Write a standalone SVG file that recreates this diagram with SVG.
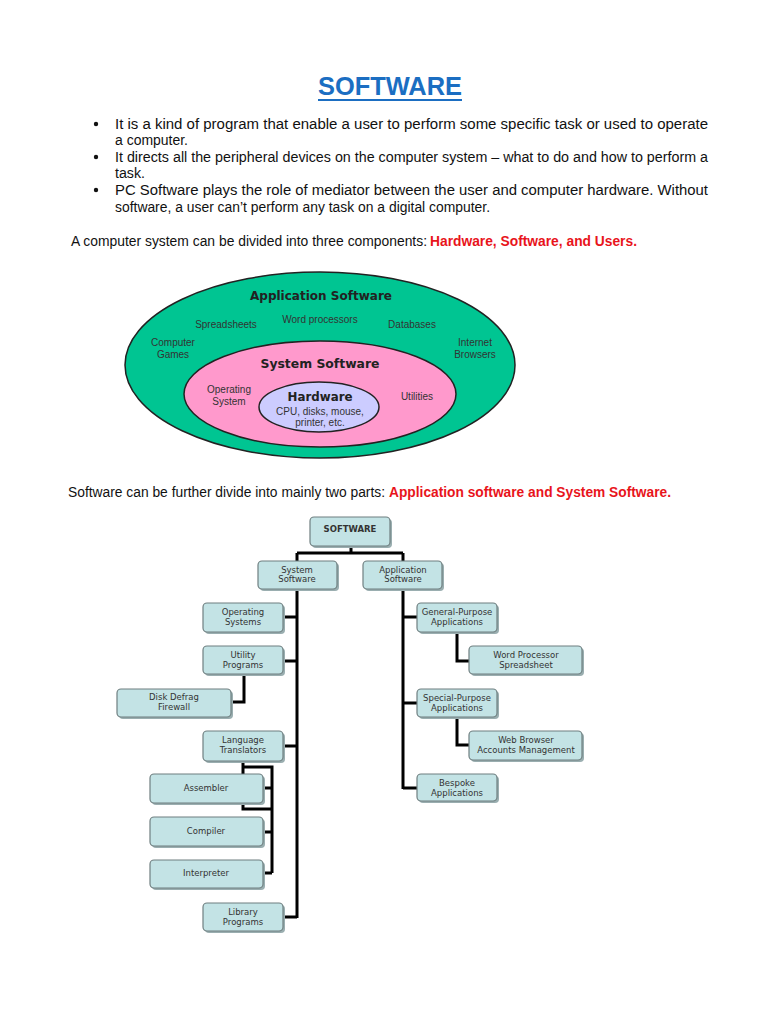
<svg xmlns="http://www.w3.org/2000/svg" width="768" height="1024" viewBox="0 0 768 1024">
<style>
.body{font-family:"Liberation Sans",Arial,sans-serif;font-size:14px;fill:#111}
.red{font-family:"Liberation Sans",Arial,sans-serif;font-size:14px;font-weight:bold;fill:#e8141b}
.eh{font-family:"DejaVu Sans","Liberation Sans",sans-serif;font-size:12.5px;font-weight:bold;fill:#222;text-anchor:middle}
.es{font-family:"Liberation Sans",Arial,sans-serif;font-size:10px;fill:#333;text-anchor:middle}
.box{fill:#c3e3e5;stroke:#6f7f80;stroke-width:1.2}
.shadow{fill:#9aaeb0}
.bt{font-family:"DejaVu Sans","Liberation Sans",sans-serif;font-size:8.5px;fill:#333;text-anchor:middle}
.conn{fill:none;stroke:#000;stroke-width:3}
</style>
<rect width="768" height="1024" fill="#fff"/>
<g id="title">
<text x="390" y="95" text-anchor="middle" font-family="Liberation Sans,Arial,sans-serif" font-size="26" font-weight="bold" fill="#1b6ec2" textLength="144" lengthAdjust="spacingAndGlyphs">SOFTWARE</text>
<rect x="318" y="99" width="144" height="2" fill="#1b6ec2"/>
</g>
<g id="bullets">
<circle cx="96" cy="124" r="2.2" fill="#111"/>
<circle cx="96" cy="157" r="2.2" fill="#111"/>
<circle cx="96" cy="190" r="2.2" fill="#111"/>
<text class="body" x="115" y="129" textLength="593" lengthAdjust="spacingAndGlyphs">It is a kind of program that enable a user to perform some specific task or used to operate</text>
<text class="body" x="115" y="145" textLength="73" lengthAdjust="spacingAndGlyphs">a computer.</text>
<text class="body" x="115" y="162" textLength="593" lengthAdjust="spacingAndGlyphs">It directs all the peripheral devices on the computer system – what to do and how to perform a</text>
<text class="body" x="115" y="178" textLength="30" lengthAdjust="spacingAndGlyphs">task.</text>
<text class="body" x="115" y="195" textLength="593" lengthAdjust="spacingAndGlyphs">PC Software plays the role of mediator between the user and computer hardware. Without</text>
<text class="body" x="115" y="212" textLength="375" lengthAdjust="spacingAndGlyphs">software, a user can’t perform any task on a digital computer.</text>
</g>
<g id="intro1">
<text class="body" x="71" y="246" textLength="356" lengthAdjust="spacingAndGlyphs">A computer system can be divided into three components:</text>
<text class="red" x="430" y="246" textLength="207" lengthAdjust="spacingAndGlyphs">Hardware, Software, and Users.</text>
</g>
<g id="app-ellipse">
<ellipse cx="320" cy="365" rx="195" ry="93" fill="#00c592" stroke="#222" stroke-width="1.5"/>
<text class="eh" x="321" y="300" textLength="142" lengthAdjust="spacingAndGlyphs">Application Software</text>
<text class="es" x="320" y="323">Word processors</text>
<text class="es" x="226" y="328">Spreadsheets</text>
<text class="es" x="412" y="328">Databases</text>
<text class="es" x="173" y="346">Computer</text>
<text class="es" x="173" y="358">Games</text>
<text class="es" x="475" y="346">Internet</text>
<text class="es" x="475" y="358">Browsers</text>
</g>
<g id="sys-ellipse">
<ellipse cx="320" cy="394" rx="136" ry="53" fill="#ff99cc" stroke="#222" stroke-width="1.5"/>
<text class="eh" x="320" y="368" textLength="119" lengthAdjust="spacingAndGlyphs">System Software</text>
<text class="es" x="229" y="393">Operating</text>
<text class="es" x="229" y="405">System</text>
<text class="es" x="417" y="400">Utilities</text>
</g>
<g id="hw-ellipse">
<ellipse cx="319" cy="407" rx="60" ry="25" fill="#ccccff" stroke="#222" stroke-width="1.5"/>
<text class="eh" x="320" y="401" textLength="65" lengthAdjust="spacingAndGlyphs">Hardware</text>
<text class="es" x="320" y="415">CPU, disks, mouse,</text>
<text class="es" x="320" y="426">printer, etc.</text>
</g>
<g id="intro2">
<text class="body" x="68" y="497" textLength="317" lengthAdjust="spacingAndGlyphs">Software can be further divide into mainly two parts:</text>
<text class="red" x="389" y="497" textLength="282" lengthAdjust="spacingAndGlyphs">Application software and System Software.</text>
</g>
<g id="connectors">
<path class="conn" d="M351 546 V553 M297 553 H403 M297 553 V561 M403 553 V561"/>
<path class="conn" d="M297 589 V918"/>
<path class="conn" d="M283 617 H297 M283 661 H297 M283 746 H297 M283 917 H297"/>
<path class="conn" d="M244 674 V702 H231"/>
<path class="conn" d="M243 761 V809 H272 M243 767 H272 V873 M263 788 H272 M263 832 H272 M263 873 H272"/>
<path class="conn" d="M403 589 V789 M403 617 H417 M403 703 H417 M403 788 H417"/>
<path class="conn" d="M457 632 V661 H469 M457 717 V745 H469"/>
</g>
<g id="n-software"><rect class="shadow" x="312" y="519" width="80" height="29" rx="4"/><rect class="box" x="310" y="517" width="80" height="29" rx="4"/><text class="bt" x="350" y="532" font-weight="bold" font-size="10">SOFTWARE</text></g>
<g id="n-system"><rect class="shadow" x="260" y="563" width="79" height="28" rx="4"/><rect class="box" x="258" y="561" width="79" height="28" rx="4"/><text class="bt" x="297" y="573">System</text><text class="bt" x="297" y="582">Software</text></g>
<g id="n-application"><rect class="shadow" x="365" y="563" width="79" height="28" rx="4"/><rect class="box" x="363" y="561" width="79" height="28" rx="4"/><text class="bt" x="403" y="573">Application</text><text class="bt" x="403" y="582">Software</text></g>
<g id="n-os"><rect class="shadow" x="205" y="605" width="80" height="29" rx="4"/><rect class="box" x="203" y="603" width="80" height="29" rx="4"/><text class="bt" x="243" y="615">Operating</text><text class="bt" x="243" y="625">Systems</text></g>
<g id="n-utility"><rect class="shadow" x="205" y="648" width="80" height="28" rx="4"/><rect class="box" x="203" y="646" width="80" height="28" rx="4"/><text class="bt" x="243" y="658">Utility</text><text class="bt" x="243" y="668">Programs</text></g>
<g id="n-disk"><rect class="shadow" x="119" y="691" width="114" height="28" rx="4"/><rect class="box" x="117" y="689" width="114" height="28" rx="4"/><text class="bt" x="174" y="700">Disk Defrag</text><text class="bt" x="174" y="710">Firewall</text></g>
<g id="n-lang"><rect class="shadow" x="205" y="733" width="80" height="30" rx="4"/><rect class="box" x="203" y="731" width="80" height="30" rx="4"/><text class="bt" x="243" y="743">Language</text><text class="bt" x="243" y="753">Translators</text></g>
<g id="n-assembler"><rect class="shadow" x="152" y="776" width="113" height="29" rx="4"/><rect class="box" x="150" y="774" width="113" height="29" rx="4"/><text class="bt" x="206" y="791">Assembler</text></g>
<g id="n-compiler"><rect class="shadow" x="152" y="819" width="113" height="29" rx="4"/><rect class="box" x="150" y="817" width="113" height="29" rx="4"/><text class="bt" x="206" y="834">Compiler</text></g>
<g id="n-interpreter"><rect class="shadow" x="152" y="862" width="113" height="28" rx="4"/><rect class="box" x="150" y="860" width="113" height="28" rx="4"/><text class="bt" x="206" y="876">Interpreter</text></g>
<g id="n-library"><rect class="shadow" x="205" y="905" width="80" height="28" rx="4"/><rect class="box" x="203" y="903" width="80" height="28" rx="4"/><text class="bt" x="243" y="915">Library</text><text class="bt" x="243" y="925">Programs</text></g>
<g id="n-general"><rect class="shadow" x="419" y="605" width="80" height="29" rx="4"/><rect class="box" x="417" y="603" width="80" height="29" rx="4"/><text class="bt" x="457" y="615">General-Purpose</text><text class="bt" x="457" y="625">Applications</text></g>
<g id="n-word"><rect class="shadow" x="471" y="648" width="113" height="28" rx="4"/><rect class="box" x="469" y="646" width="113" height="28" rx="4"/><text class="bt" x="526" y="658">Word Processor</text><text class="bt" x="526" y="668">Spreadsheet</text></g>
<g id="n-special"><rect class="shadow" x="419" y="691" width="80" height="28" rx="4"/><rect class="box" x="417" y="689" width="80" height="28" rx="4"/><text class="bt" x="457" y="701">Special-Purpose</text><text class="bt" x="457" y="711">Applications</text></g>
<g id="n-web"><rect class="shadow" x="471" y="733" width="113" height="29" rx="4"/><rect class="box" x="469" y="731" width="113" height="29" rx="4"/><text class="bt" x="526" y="743">Web Browser</text><text class="bt" x="526" y="753">Accounts Management</text></g>
<g id="n-bespoke"><rect class="shadow" x="419" y="776" width="80" height="27" rx="4"/><rect class="box" x="417" y="774" width="80" height="27" rx="4"/><text class="bt" x="457" y="786">Bespoke</text><text class="bt" x="457" y="796">Applications</text></g>
</svg>
